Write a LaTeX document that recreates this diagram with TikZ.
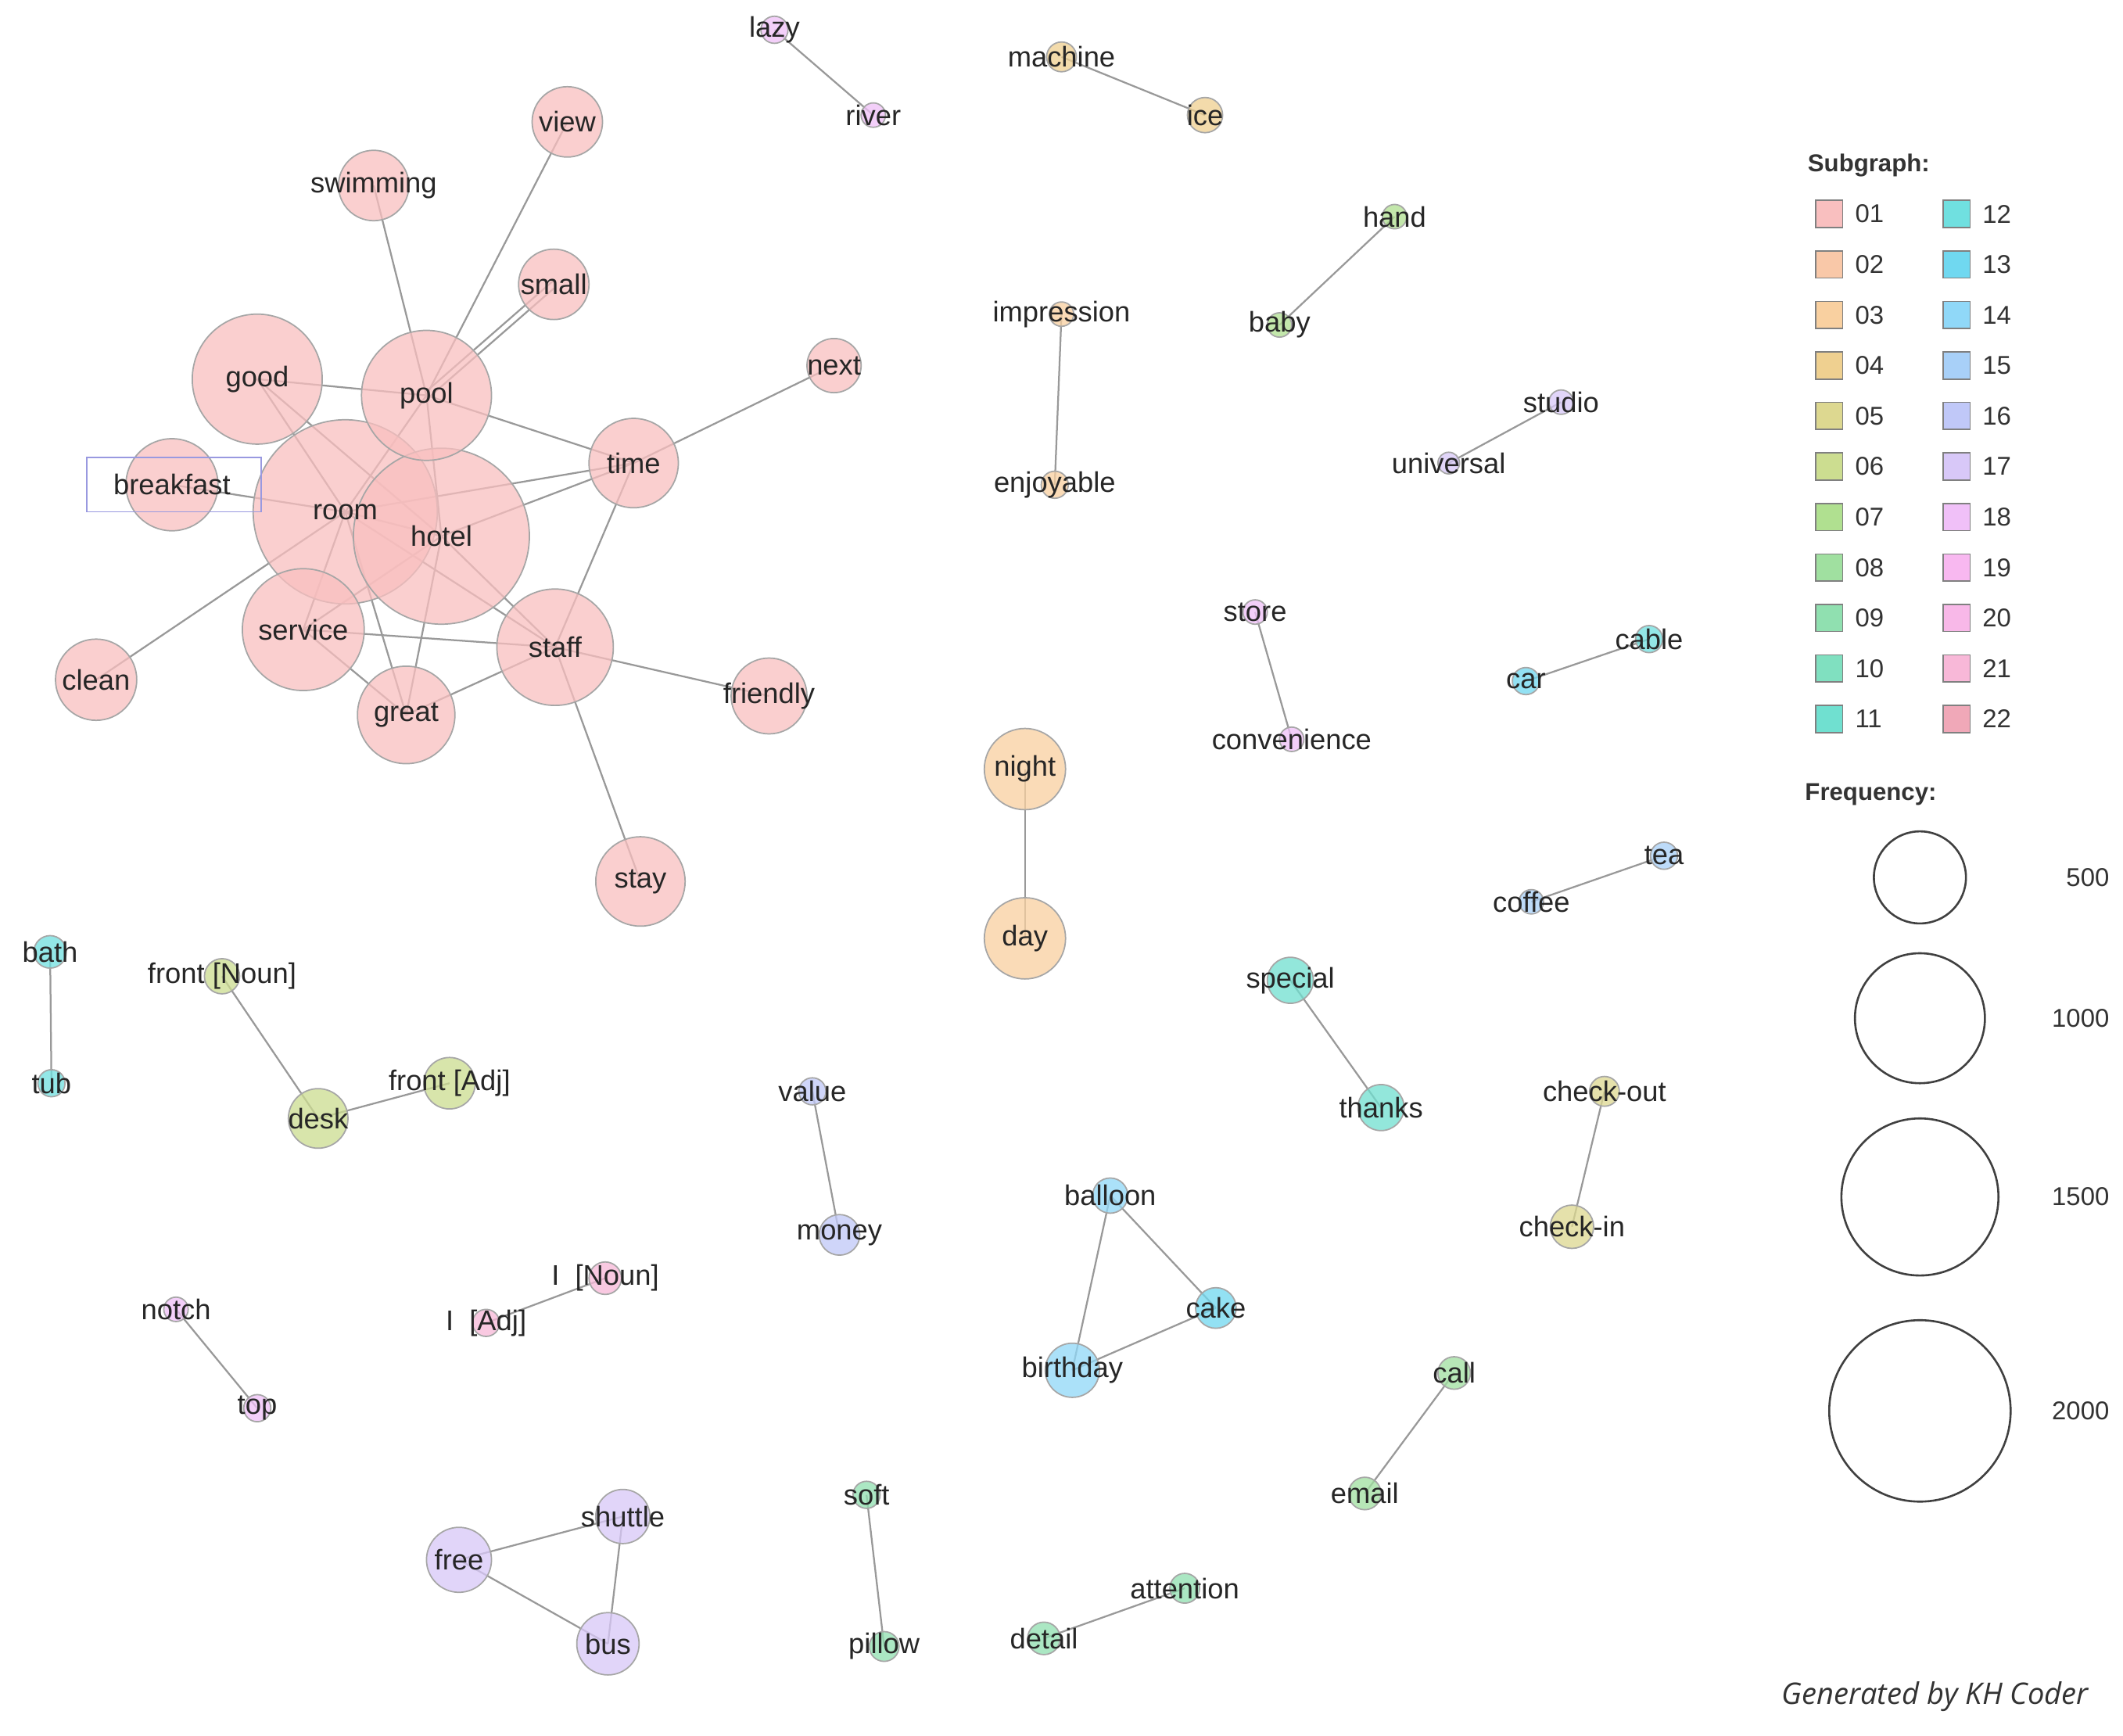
\documentclass[tikz,border=0pt]{standalone}
\usepackage{fontspec}
\setmainfont{Liberation Sans}
\newfontfamily\kh{Open Sans}
\usetikzlibrary{backgrounds}
\definecolor{c01}{HTML}{F9BFBF}\definecolor{c02}{HTML}{F9C8A8}\definecolor{c03}{HTML}{F9D0A0}
\definecolor{c04}{HTML}{EFD090}\definecolor{c05}{HTML}{DDD890}\definecolor{c06}{HTML}{CCDD90}
\definecolor{c07}{HTML}{B0E090}\definecolor{c08}{HTML}{A0E0A0}\definecolor{c09}{HTML}{90E0B0}
\definecolor{c10}{HTML}{80E0C0}\definecolor{c11}{HTML}{70E0D0}\definecolor{c12}{HTML}{70E0E0}
\definecolor{c13}{HTML}{70D8F0}\definecolor{c14}{HTML}{90D8F8}\definecolor{c15}{HTML}{A8D0F8}
\definecolor{c16}{HTML}{C0C8F8}\definecolor{c17}{HTML}{D8C8F8}\definecolor{c18}{HTML}{F0C0F8}
\definecolor{c19}{HTML}{F8B8F0}\definecolor{c20}{HTML}{F8B8E8}\definecolor{c21}{HTML}{F8B8D8}
\definecolor{c22}{HTML}{F0A8B8}
\tikzset{wc/.style={circle,inner sep=0pt,draw=black!35,line width=1pt,fill opacity=0.75},
 wl/.style={font=\fontsize{21}{21}\selectfont,text=black!85,inner sep=0pt},
 ed/.style={draw=black!40,line width=1.3pt},
 lg/.style={font=\fontsize{19}{19}\selectfont,text=black!80,anchor=west,inner sep=0pt}}
\newcommand{\wn}[6]{\node[wc,fill=#5,minimum size=#4*2pt] (#1) at (#2,#3) {};}
\newcommand{\wt}[3]{\node[wl] (t#1) at (#1) {#3};}
\begin{document}
\begin{tikzpicture}[x=1pt,y=-1pt]
\useasboundingbox (0,0) rectangle (1568,1282);
\wn{room}{255}{378}{68}{c01}{}
\wn{hotel}{326}{396}{65}{c01}{}
\wn{good}{190}{280}{48}{c01}{}
\wn{pool}{315}{292}{48}{c01}{}
\wn{breakfast}{127}{358}{34}{c01}{}
\wn{service}{224}{465}{45}{c01}{}
\wn{great}{300}{528}{36}{c01}{}
\wn{staff}{410}{478}{43}{c01}{}
\wn{time}{468}{342}{33}{c01}{}
\wn{swimming}{276}{137}{26}{c01}{}
\wn{view}{419}{90}{26}{c01}{}
\wn{small}{409}{210}{26}{c01}{}
\wn{next}{616}{270}{20}{c01}{}
\wn{clean}{71}{502}{30}{c01}{}
\wn{friendly}{568}{514}{28}{c01}{}
\wn{stay}{473}{651}{33}{c01}{}
\wn{lazy}{572}{22}{10}{c18}{}
\wn{river}{645}{85}{9}{c18}{}
\wn{machine}{784}{42}{11}{c04}{}
\wn{ice}{890}{85}{13}{c04}{}
\wn{hand}{1030}{160}{9}{c07}{}
\wn{baby}{945}{240}{9}{c07}{}
\wn{impression}{784}{232}{9}{c03}{}
\wn{enjoyable}{779}{358}{10}{c03}{}
\wn{studio}{1153}{297}{9}{c17}{}
\wn{universal}{1070}{342}{8}{c17}{}
\wn{store}{927}{452}{9}{c18}{}
\wn{convenience}{954}{546}{9}{c18}{}
\wn{cable}{1218}{472}{10}{c12}{}
\wn{car}{1127}{503}{10}{c13}{}
\wn{night}{757}{568}{30}{c03}{}
\wn{day}{757}{693}{30}{c03}{}
\wn{tea}{1229}{632}{10}{c15}{}
\wn{coffee}{1131}{666}{9}{c15}{}
\wn{bath}{37}{703}{12}{c12}{}
\wn{tub}{38}{800}{10}{c12}{}
\wn{frontn}{164}{721}{13}{c06}{}
\wn{desk}{235}{826}{22}{c06}{}
\wn{fronta}{332}{800}{19}{c06}{}
\wn{special}{953}{724}{17}{c11}{}
\wn{thanks}{1020}{818}{17}{c11}{}
\wn{value}{600}{806}{10}{c16}{}
\wn{money}{620}{912}{15}{c16}{}
\wn{checkout}{1185}{806}{11}{c05}{}
\wn{checkin}{1161}{906}{16}{c05}{}
\wn{balloon}{820}{883}{13}{c14}{}
\wn{cake}{898}{966}{15}{c13}{}
\wn{birthday}{792}{1012}{20}{c14}{}
\wn{in}{447}{944}{12}{c21}{}
\wn{ia}{359}{977}{10}{c21}{}
\wn{notch}{130}{967}{9}{c18}{}
\wn{top}{190}{1040}{10}{c18}{}
\wn{call}{1074}{1014}{12}{c08}{}
\wn{email}{1008}{1103}{12}{c08}{}
\wn{soft}{640}{1104}{10}{c09}{}
\wn{pillow}{653}{1216}{11}{c09}{}
\wn{attention}{875}{1173}{11}{c09}{}
\wn{detail}{771}{1210}{12}{c09}{}
\wn{free}{339}{1152}{24}{c17}{}
\wn{shuttle}{460}{1120}{20}{c17}{}
\wn{bus}{449}{1214}{23}{c17}{}
\begin{scope}[on background layer]
\fill[white] (0,0) rectangle (1568,1282);
\foreach \a/\b in {swimming/pool,view/pool,next/time,good/pool,good/room,good/hotel,pool/room,pool/hotel,pool/time,breakfast/room,room/hotel,room/time,hotel/time,time/staff,room/staff,hotel/staff,service/staff,service/great,great/staff,clean/room,staff/friendly,staff/stay,service/room,great/room,great/hotel,service/hotel,lazy/river,machine/ice,hand/baby,impression/enjoyable,studio/universal,store/convenience,cable/car,night/day,tea/coffee,bath/tub,frontn/desk,desk/fronta,special/thanks,value/money,checkout/checkin,balloon/cake,balloon/birthday,cake/birthday,in/ia,notch/top,call/email,soft/pillow,attention/detail,free/shuttle,free/bus,shuttle/bus}
 \draw[ed] (\a.center) -- (\b.center);
\draw[ed] ([yshift=-3pt]small.center) -- ([yshift=-3pt]pool.center);
\draw[ed] ([yshift=3pt]small.center) -- ([yshift=3pt]pool.center);
\end{scope}
\wt{room}{}{room}\wt{hotel}{}{hotel}\wt{good}{}{good}\wt{pool}{}{pool}
\node[wl] (tbreakfast) at (breakfast) {breakfast};
\draw[draw=black!30!blue!40,line width=1pt] (64,338) rectangle (193,378);
\wt{service}{}{service}\wt{great}{}{great}\wt{staff}{}{staff}\wt{time}{}{time}
\wt{swimming}{}{swimming}\wt{view}{}{view}\wt{small}{}{small}\wt{next}{}{next}
\wt{clean}{}{clean}\wt{friendly}{}{friendly}\wt{stay}{}{stay}
\wt{lazy}{}{lazy}\wt{river}{}{river}\wt{machine}{}{machine}\wt{ice}{}{ice}
\wt{hand}{}{hand}\wt{baby}{}{baby}\wt{impression}{}{impression}\wt{enjoyable}{}{enjoyable}
\wt{studio}{}{studio}\wt{universal}{}{universal}\wt{store}{}{store}\wt{convenience}{}{convenience}
\wt{cable}{}{cable}\wt{car}{}{car}\wt{night}{}{night}\wt{day}{}{day}
\wt{tea}{}{tea}\wt{coffee}{}{coffee}\wt{bath}{}{bath}\wt{tub}{}{tub}
\wt{frontn}{}{front [Noun]}\wt{desk}{}{desk}
\node[wl] (tfronta) at (332,800) {front [Adj]};
\wt{special}{}{special}\wt{thanks}{}{thanks}\wt{value}{}{value}\wt{money}{}{money}
\wt{checkout}{}{check-out}\wt{checkin}{}{check-in}\wt{balloon}{}{balloon}\wt{cake}{}{cake}
\wt{birthday}{}{birthday}
\node[wl] (tin) at (447,944) {I\ \ [Noun]};
\node[wl] (tia) at (359,977) {I\ \ [Adj]};
\wt{notch}{}{notch}\wt{top}{}{top}\wt{call}{}{call}\wt{email}{}{email}
\wt{soft}{}{soft}\wt{pillow}{}{pillow}\wt{attention}{}{attention}\wt{detail}{}{detail}
\wt{free}{}{free}\wt{shuttle}{}{shuttle}\wt{bus}{}{bus}
% legend
\node[lg,font=\bfseries\fontsize{18}{18}\selectfont] (lsub) at (1335,122) {Subgraph:};
\foreach \i [evaluate=\i as \yy using 158+37.3*(\i-1)] in {1,...,11} {
  \pgfmathtruncatemacro{\ja}{\i}\pgfmathtruncatemacro{\jb}{\i+11}
  \edef\ca{c\ifnum\ja<10 0\fi\ja}\edef\cb{c\jb}
  \node[draw=black!50,fill=\ca,minimum size=20pt,inner sep=0pt,line width=1pt] (sa\i) at (1351,\yy) {};
  \node[lg] (la\i) at (1370,\yy) {\ifnum\ja<10 0\fi\ja};
  \node[draw=black!50,fill=\cb,minimum size=20pt,inner sep=0pt,line width=1pt] (sb\i) at (1445,\yy) {};
  \node[lg] (lb\i) at (1464,\yy) {\jb};
}
\node[lg,font=\bfseries\fontsize{18}{18}\selectfont] (lfreq) at (1333,587) {Frequency:};
\foreach \yy/\r/\v in {648/34/500,752/48/1000,884/58/1500,1042/67/2000} {
  \node[circle,draw=black!75,line width=1.5pt,minimum size=\r*2pt,inner sep=0pt] (f\v) at (1418,\yy) {};
  \node[lg,anchor=east] (fl\v) at (1558,\yy) {\v};
}
\node[font=\kh\itshape\fontsize{22}{22}\selectfont,text=black!80,anchor=east] (kh) at (1546,1253) {Generated by KH Coder};
\end{tikzpicture}
\end{document}
